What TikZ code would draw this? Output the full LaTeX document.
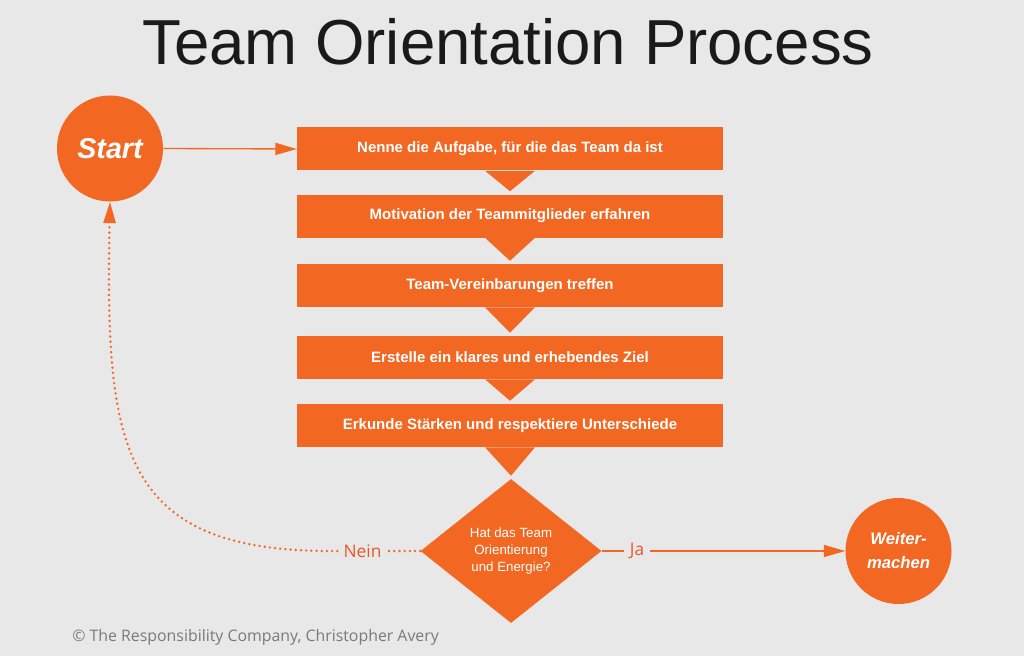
\documentclass[tikz,border=0pt]{standalone}
\usepackage{fontspec}
\setmainfont{Liberation Sans}
\newfontfamily\labelfont{Open Sans}
\usetikzlibrary{arrows.meta, calc, shapes.geometric}
\definecolor{corange}{HTML}{F26722}
\definecolor{clabel}{HTML}{E9572B}
\definecolor{cbg}{HTML}{E8E8E8}
\definecolor{cink}{HTML}{1A1A1A}
\definecolor{cgray}{HTML}{7A7A7A}

\begin{document}
\begin{tikzpicture}[
  x=0.75pt, y=-0.75pt,
  stepbox/.style={
    rectangle, fill=corange, text=white, inner sep=0pt,
    minimum width=319.5pt, minimum height=32.25pt,
    font=\bfseries\fontsize{11.25}{13}\selectfont
  },
  endpoint/.style={
    circle, fill=corange, text=white, inner sep=0pt,
    minimum size=79.5pt, align=center
  },
  decision/.style={
    diamond, fill=corange, text=white, inner sep=0pt,
    minimum width=135.75pt, minimum height=108pt, align=center,
    font=\fontsize{10}{12.5}\selectfont
  },
  answer/.style={text=clabel, inner xsep=4.5pt, font=\labelfont\fontsize{13}{15}\selectfont},
  flowarrow/.style={-{Triangle[length=16pt, width=9pt]}, draw=corange, line width=1pt},
  loopback/.style={draw=corange, line width=2pt, line cap=round, dash pattern=on 0pt off 3.9pt}
]

% ============================================================
% Background and title
\fill[cbg] (0,0) rectangle (1024,656);
\node[cink, anchor=base, font=\fontsize{47.7}{53}\selectfont] (title) at (508,65)
  {Team Orientation Process};

% ============================================================
% Start, the five steps and the question
\node[endpoint, font=\bfseries\itshape\fontsize{21.5}{26}\selectfont] (start) at (110,148.5) {Start};

\foreach \ypos/\txt [count=\i] in {
    149/{Nenne die Aufgabe, für die das Team da ist},
    216/{Motivation der Teammitglieder erfahren},
    285.5/{Team-Vereinbarungen treffen},
    357.5/{Erstelle ein klares und erhebendes Ziel},
    425.5/{Erkunde Stärken und respektiere Unterschiede}} {
  \node[stepbox] (b\i) at (510,\ypos) {\txt};
}

\node[decision] (dq) at (511,551) {Hat das Team\\Orientierung\\und Energie?};

% Pointers between the steps
\foreach \a/\b in {b1/b2, b2/b3, b3/b4, b4/b5, b5/dq} {
  \fill[corange] ($(\a.south)+(-25,0)$) -- ($(\a.south)+(25,0)$) -- ($(\b.north)+(0,-3)$) -- cycle;
}

\draw[flowarrow] (start.east) -- (b1.west);

% ============================================================
% Answers: yes goes on, no goes back to the start
\node[endpoint, font=\bfseries\itshape\fontsize{12.5}{18}\selectfont] (cont) at (898.5,551) {Weiter-\\machen};
\node[answer] (ja) at (637,551) {Ja};
\node[answer] (nein) at (362.5,551) {Nein};

\draw[corange, line width=1pt] (dq.east) -- (ja.west);
\draw[flowarrow] (ja.east) -- (cont.west);

\draw[loopback] (dq.west) -- (nein.east);
\draw[loopback, -{Triangle[length=16pt, width=9pt]}] (nein.west)
  .. controls (120,553) and (105,450) .. (start.south);

% Credit line
\node[cgray, anchor=base west, inner sep=0pt, font=\labelfont\fontsize{11.9}{14}\selectfont] (credit) at (72,641)
  {© The Responsibility Company, Christopher Avery};

\end{tikzpicture}
\end{document}
